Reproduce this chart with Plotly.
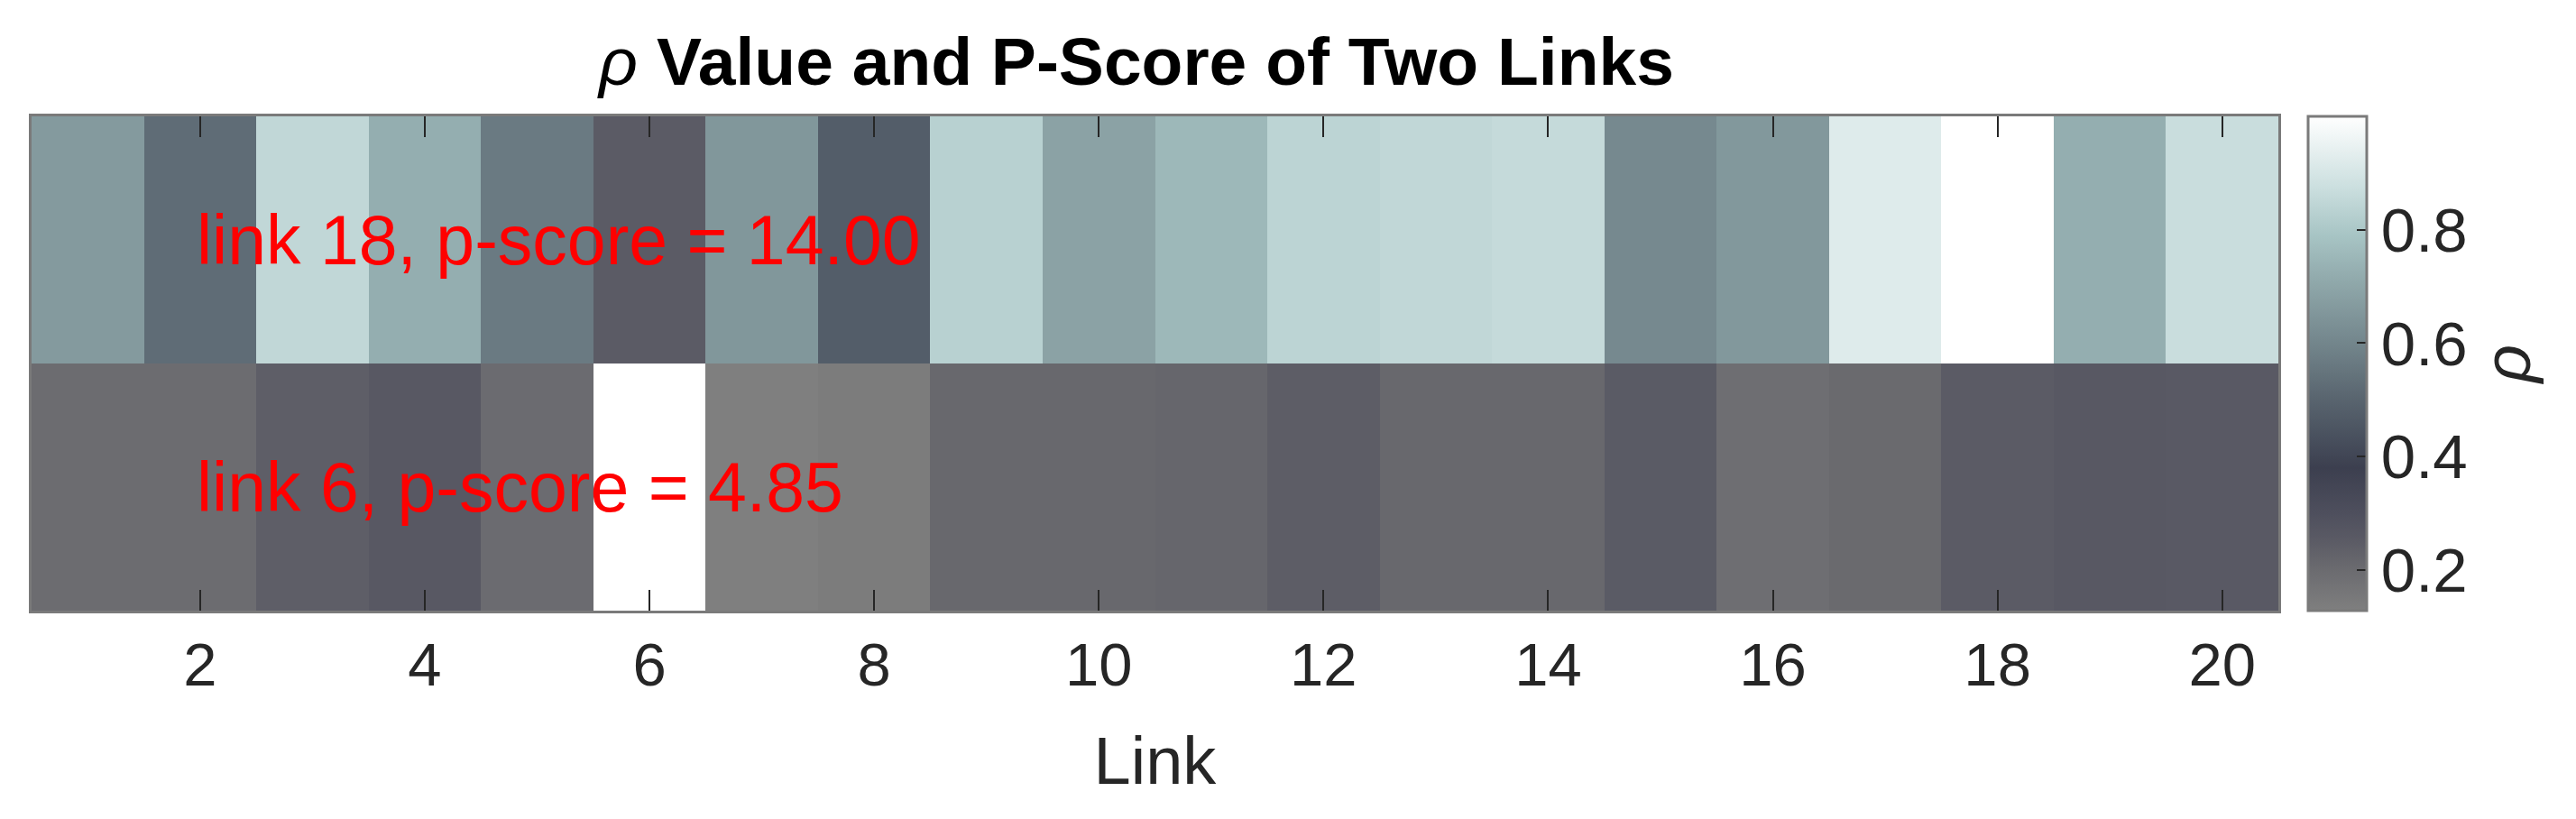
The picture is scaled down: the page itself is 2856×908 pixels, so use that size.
import plotly.graph_objects as go

links = list(range(1, 21))
rows = [1, 2]
rho_link18 = [0.664, 0.525, 0.85, 0.725, 0.566, 0.25, 0.653, 0.476, 0.83, 0.69,
              0.755, 0.84, 0.85, 0.86, 0.61, 0.656, 0.92, 1.0, 0.725, 0.87]
rho_link6 = [0.196, 0.196, 0.24, 0.262, 0.20, 1.0, 0.128, 0.14, 0.21, 0.21,
             0.215, 0.245, 0.21, 0.21, 0.252, 0.19, 0.205, 0.25, 0.262, 0.258]
xtick_vals = [2, 4, 6, 8, 10, 12, 14, 16, 18, 20]
cbar_ticks = [0.2, 0.4, 0.6, 0.8]
labels = ["link 18, p-score = 14.00", "link 6, p-score = 4.85"]

zmin = min(rho_link18 + rho_link6)
zmax = max(rho_link18 + rho_link6)

stops = [(0.128, "#7f7f7f"), (0.207, "#69696e"), (0.25, "#5b5b65"),
         (0.30, "#4e4f5d"), (0.38, "#3c3f4f"), (0.426, "#474e5c"),
         (0.506, "#5a6670"), (0.604, "#74878d"), (0.72, "#93acae"),
         (0.792, "#a8c5c5"), (0.879, "#cde0e0"), (1.0, "#ffffff")]
lo, hi = stops[0][0], stops[-1][0]
colorscale = [[(v - lo) / (hi - lo), c] for v, c in stops]

FONT = "Liberation Sans, Arial, Helvetica, sans-serif"

fig = go.Figure(go.Heatmap(
    z=[rho_link18, rho_link6],
    x=links,
    y=rows,
    zmin=zmin,
    zmax=zmax,
    colorscale=colorscale,
    colorbar=dict(
        x=1.0132, xanchor="left", xref="paper",
        y=0.5, yanchor="middle", len=1.0, lenmode="fraction",
        thickness=65, thicknessmode="pixels",
        outlinecolor="#7a7a7a", outlinewidth=3,
        tickvals=cbar_ticks, ticktext=["0.2", "0.4", "0.6", "0.8"],
        ticks="inside", ticklen=12, tickcolor="#262626", tickwidth=2,
        tickfont=dict(family=FONT, size=69, color="#262626"),
        title=dict(text="<i>ρ</i>", side="right",
                   font=dict(family=FONT, size=74, color="#262626")),
        xpad=0, ypad=0,
    ),
    hoverongaps=False,
))

for r, txt in zip(rows, labels):
    fig.add_annotation(x=1.95, y=r, xref="x", yref="y", text=txt,
                       showarrow=False, xanchor="left", yanchor="middle",
                       font=dict(family=FONT, size=77, color="#ff0000"))

fig.update_layout(
    width=2856, height=908,
    margin=dict(l=27, r=338, t=121, b=239),
    paper_bgcolor="white", plot_bgcolor="white",
    title=dict(text="<i>ρ</i> <b>Value and P-Score of Two Links</b>",
               x=1252 / 2856, xanchor="center",
               y=1 - 60 / 908, yanchor="middle",
               font=dict(family=FONT, size=75, color="#000000")),
    xaxis=dict(range=[0.5, 20.5], tickvals=xtick_vals,
               ticks="inside", ticklen=23, tickwidth=2, tickcolor="#262626",
               showline=True, linecolor="#7a7a7a", linewidth=3, mirror="ticks",
               showgrid=False, zeroline=False,
               tickfont=dict(family=FONT, size=67, color="#262626"),
               title=dict(text="Link", standoff=44,
                          font=dict(family=FONT, size=74, color="#262626"))),
    yaxis=dict(range=[2.5, 0.5], showticklabels=False, ticks="",
               showline=True, linecolor="#7a7a7a", linewidth=3, mirror=True,
               showgrid=False, zeroline=False),
)

fig.write_html("out.html")
